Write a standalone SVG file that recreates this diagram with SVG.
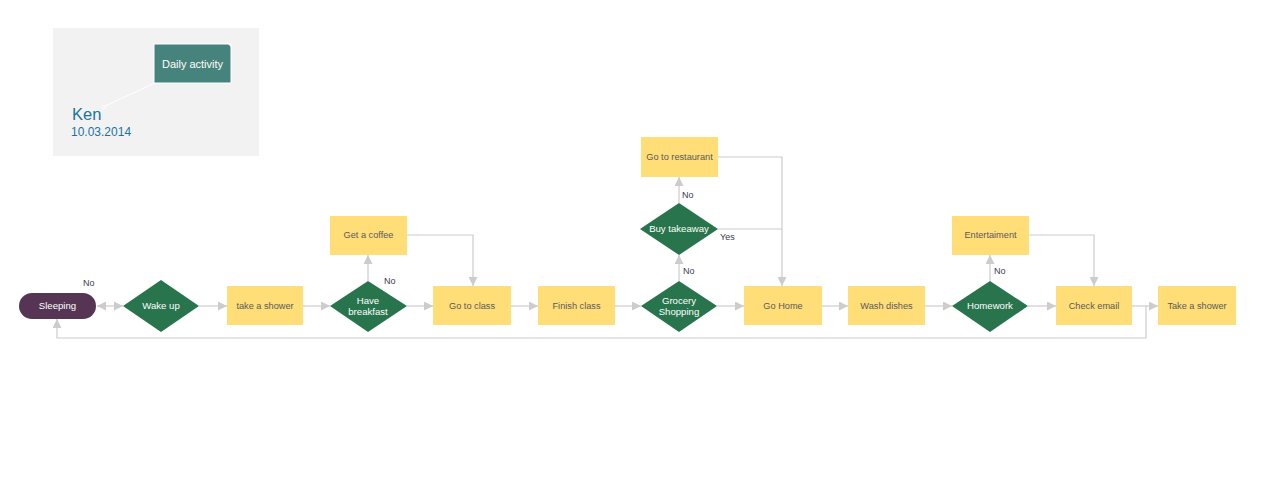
<svg xmlns="http://www.w3.org/2000/svg" width="1261" height="482" viewBox="0 0 1261 482">
<style>
.box{fill:#ffdd77;}
.dia{fill:#28744c;}
.bt{font-family:"Liberation Sans",Arial,sans-serif;font-size:9.2px;fill:#5a5a5a;text-anchor:middle;}
.wt{font-family:"Liberation Sans",Arial,sans-serif;font-size:9.6px;fill:#ffffff;text-anchor:middle;}
.lb{font-family:"Liberation Sans",Arial,sans-serif;font-size:9px;fill:#3c3c50;}
.c{fill:none;stroke:#cccccc;stroke-width:1.2;}
</style>
<defs>
<marker id="ah" viewBox="0 0 10 10" refX="10" refY="5" markerWidth="9" markerHeight="9" markerUnits="userSpaceOnUse" orient="auto-start-reverse">
<path d="M0,0 L10,5 L0,10 z" fill="#cccccc"/>
</marker>
</defs>
<rect width="1261" height="482" fill="#ffffff"/>
<g id="header">
<rect x="53" y="28" width="206" height="128" fill="#f2f2f2"/>
<line x1="155" y1="83" x2="105" y2="106" stroke="#ffffff" stroke-width="1"/>
<circle cx="104" cy="107" r="1.8" fill="#f2f2f2" stroke="#ffffff" stroke-width="0.8"/>
<rect x="154" y="44" width="77" height="39" fill="#45837c" stroke="#ffffff" stroke-width="1"/>
<path d="M228,44 L231,44 L231,47 z" fill="#ffffff"/>
<text x="192.5" y="68" font-family="'Liberation Sans',Arial,sans-serif" font-size="11" fill="#ffffff" text-anchor="middle">Daily activity</text>
<text x="72" y="120" font-family="'Liberation Sans',Arial,sans-serif" font-size="16.5" fill="#1a74a0">Ken</text>
<text x="71" y="136" font-family="'Liberation Sans',Arial,sans-serif" font-size="12" fill="#1a74a0">10.03.2014</text>
</g>
<g id="connectors">
<line class="c" x1="97" y1="306" x2="123" y2="306" marker-start="url(#ah)" marker-end="url(#ah)"/>
<line class="c" x1="199" y1="306" x2="227" y2="306" marker-end="url(#ah)"/>
<line class="c" x1="303" y1="306" x2="330" y2="306" marker-end="url(#ah)"/>
<line class="c" x1="368" y1="281" x2="368" y2="255" marker-end="url(#ah)"/>
<polyline class="c" points="407,235 473,235 473,286" marker-end="url(#ah)"/>
<line class="c" x1="407" y1="306" x2="433" y2="306" marker-end="url(#ah)"/>
<line class="c" x1="511" y1="306" x2="538" y2="306" marker-end="url(#ah)"/>
<line class="c" x1="615" y1="306" x2="641" y2="306" marker-end="url(#ah)"/>
<line class="c" x1="679" y1="281" x2="679" y2="255" marker-end="url(#ah)"/>
<line class="c" x1="679" y1="203" x2="679" y2="177" marker-end="url(#ah)"/>
<polyline class="c" points="718,157 782,157 782,286" marker-end="url(#ah)"/>
<line class="c" x1="718" y1="229" x2="782" y2="229"/>
<line class="c" x1="717" y1="306" x2="744" y2="306" marker-end="url(#ah)"/>
<line class="c" x1="822" y1="306" x2="848" y2="306" marker-end="url(#ah)"/>
<line class="c" x1="925" y1="306" x2="952" y2="306" marker-end="url(#ah)"/>
<line class="c" x1="990" y1="281" x2="990" y2="255" marker-end="url(#ah)"/>
<polyline class="c" points="1029,235 1094,235 1094,286" marker-end="url(#ah)"/>
<line class="c" x1="1028" y1="306" x2="1056" y2="306" marker-end="url(#ah)"/>
<line class="c" x1="1132" y1="306" x2="1158" y2="306" marker-end="url(#ah)"/>
<polyline class="c" points="1146,306 1146,338 57,338 57,319" marker-end="url(#ah)"/>
<text class="lb" x="83" y="286">No</text>
<text class="lb" x="384" y="284">No</text>
<text class="lb" x="682" y="198">No</text>
<text class="lb" x="720" y="240">Yes</text>
<text class="lb" x="683" y="274">No</text>
<text class="lb" x="994" y="274">No</text>
</g>
<g id="sleeping">
<rect x="19" y="293" width="77" height="26" rx="13" fill="#563554"/>
<text class="wt" x="57.5" y="309">Sleeping</text>
</g>
<g id="wake-up">
<polygon class="dia" points="161,280 199,306 161,332 123,306"/>
<text class="wt" x="161" y="309">Wake up</text>
</g>
<g id="take-shower-1">
<rect class="box" x="227" y="286" width="76" height="39"/>
<text class="bt" x="265" y="309">take a shower</text>
</g>
<g id="have-breakfast">
<polygon class="dia" points="368,281 407,306 368,332 330,306"/>
<text class="wt" x="368" y="304">Have</text>
<text class="wt" x="368" y="315">breakfast</text>
</g>
<g id="get-coffee">
<rect class="box" x="330" y="216" width="77" height="39"/>
<text class="bt" x="368.5" y="238">Get a coffee</text>
</g>
<g id="go-to-class">
<rect class="box" x="433" y="286" width="78" height="39"/>
<text class="bt" x="472" y="309">Go to class</text>
</g>
<g id="finish-class">
<rect class="box" x="538" y="286" width="77" height="39"/>
<text class="bt" x="576.5" y="309">Finish class</text>
</g>
<g id="grocery">
<polygon class="dia" points="679,281 717,306 679,332 641,306"/>
<text class="wt" x="679" y="304">Grocery</text>
<text class="wt" x="679" y="315">Shopping</text>
</g>
<g id="buy-takeaway">
<polygon class="dia" points="679,203 718,229 679,255 640,229"/>
<text class="wt" x="679" y="232">Buy takeaway</text>
</g>
<g id="go-to-restaurant">
<rect class="box" x="641" y="137" width="77" height="40"/>
<text class="bt" x="679.5" y="160">Go to restaurant</text>
</g>
<g id="go-home">
<rect class="box" x="744" y="286" width="78" height="39"/>
<text class="bt" x="783" y="309">Go Home</text>
</g>
<g id="wash-dishes">
<rect class="box" x="848" y="286" width="77" height="39"/>
<text class="bt" x="886.5" y="309">Wash dishes</text>
</g>
<g id="homework">
<polygon class="dia" points="990,281 1028,306 990,332 952,306"/>
<text class="wt" x="990" y="309">Homework</text>
</g>
<g id="entertainment">
<rect class="box" x="952" y="216" width="77" height="39"/>
<text class="bt" x="990.5" y="238">Entertaiment</text>
</g>
<g id="check-email">
<rect class="box" x="1056" y="286" width="76" height="39"/>
<text class="bt" x="1094" y="309">Check email</text>
</g>
<g id="take-shower-2">
<rect class="box" x="1158" y="286" width="78" height="39"/>
<text class="bt" x="1197" y="309">Take a shower</text>
</g>
</svg>
